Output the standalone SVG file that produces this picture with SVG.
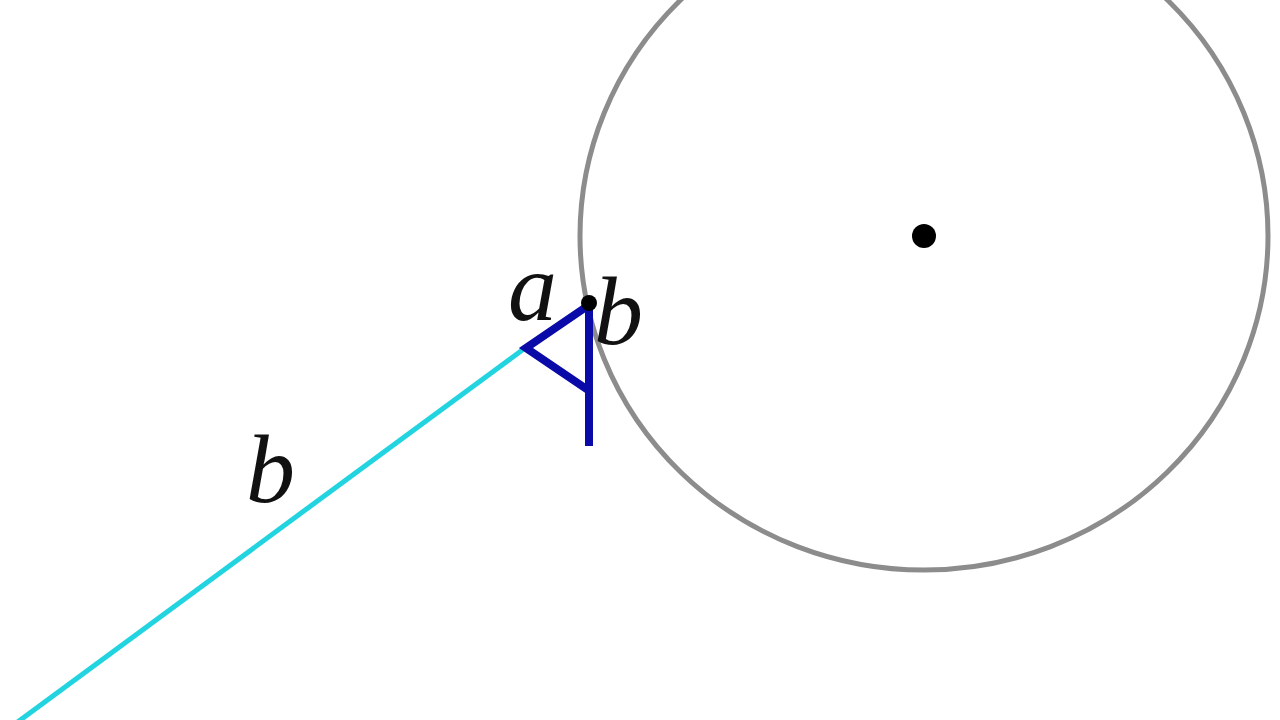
<svg xmlns="http://www.w3.org/2000/svg" width="1280" height="720" viewBox="0 0 1280 720">
<style>
text{font-family:'Liberation Serif','Times New Roman',serif;font-style:italic;font-size:98px;fill:#111}
</style>
<rect width="1280" height="720" fill="#fff"/>
<g id="circle">
<ellipse cx="924" cy="236" rx="344" ry="334" fill="none" stroke="#8c8c8c" stroke-width="5"/>
<circle cx="924" cy="236" r="12" fill="#000"/>
</g>
<g id="connectors">
<line x1="525" y1="348" x2="0" y2="735" stroke="#22d3e0" stroke-width="5"/>
<polyline points="589,305 526,348 588,390" fill="none" stroke="#0a0aa8" stroke-width="8" stroke-linejoin="miter"/>
<line x1="589" y1="305" x2="589" y2="446" stroke="#0a0aa8" stroke-width="8"/>
</g>
<g id="point">
<circle cx="589" cy="303" r="8" fill="#000"/>
</g>
<g id="labels">
<text x="508" y="320">a</text>
<text x="594" y="344">b</text>
<text x="246" y="502">b</text>
</g>
</svg>
